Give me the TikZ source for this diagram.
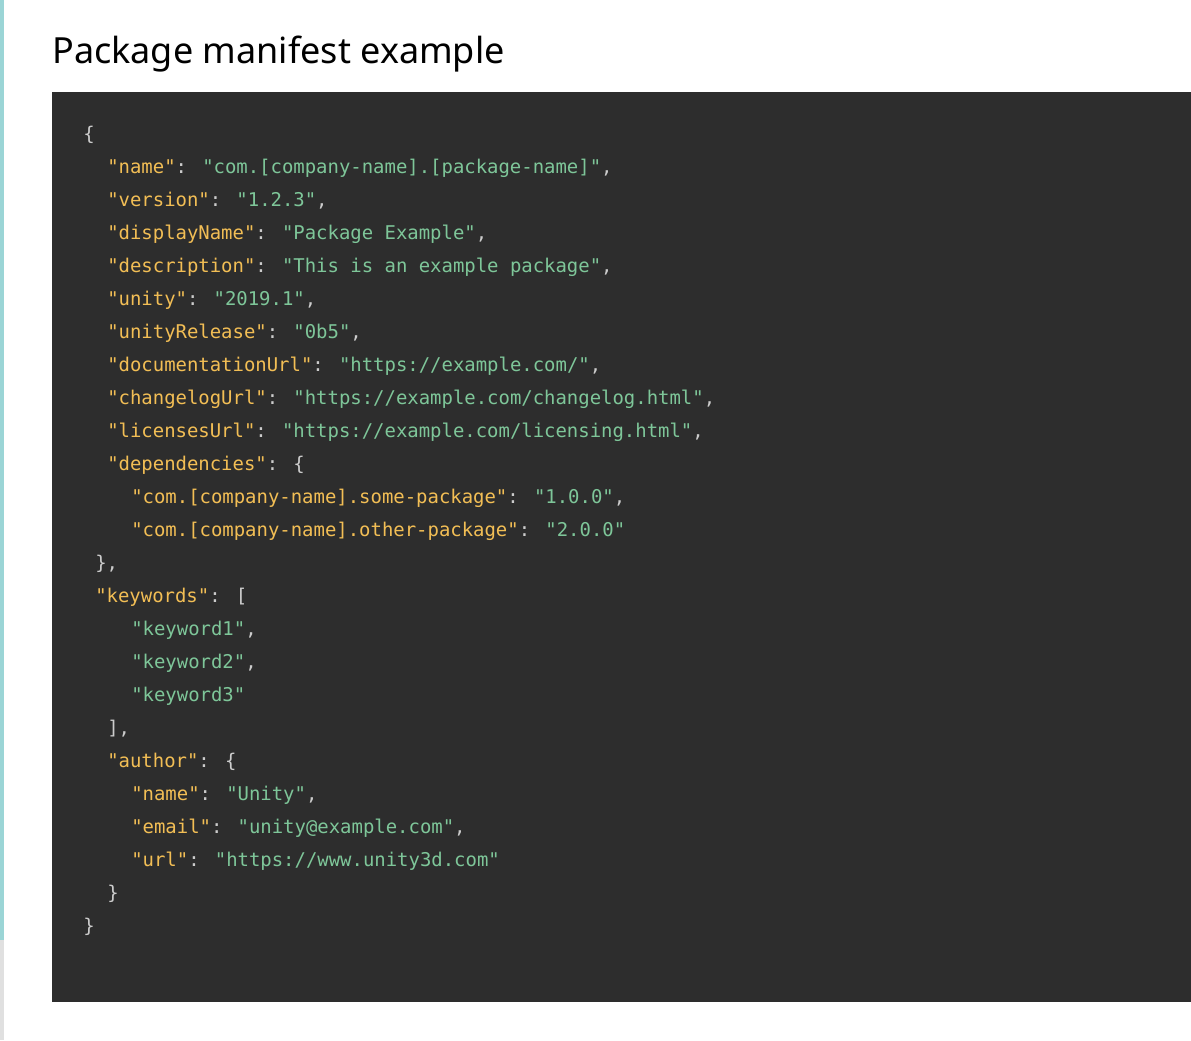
\documentclass[tikz,border=0pt]{standalone}
\usepackage{fontspec}
\setmainfont{Noto Sans}
\newfontfamily\codefont{DejaVu Sans Mono}
\definecolor{bgbox}{HTML}{2D2D2D}
\definecolor{keyc}{HTML}{F2BE55}
\definecolor{strc}{HTML}{7EC699}
\definecolor{punc}{HTML}{CCCCCC}
\definecolor{teal}{HTML}{9BD5D6}
\newcommand{\K}[1]{\textcolor{keyc}{#1}}
\newcommand{\Sx}[1]{\textcolor{strc}{#1}}
\newcommand{\Px}[1]{\textcolor{punc}{#1}}
\begin{document}
\begin{tikzpicture}[x=0.75pt,y=-0.75pt,
  code/.style={anchor=base west,inner sep=0pt,font=\codefont\fontsize{14.2}{16}\selectfont,text=punc}]
\useasboundingbox (0,0) rectangle (1191,1040);
\fill[white] (0,0) rectangle (1191,1040);
\fill[teal] (0,0) rectangle (4,940);
\fill[black!12] (0,940) rectangle (4,1040);
\fill[bgbox] (52,92) rectangle (1191,1002);
\node[anchor=base west,inner sep=0pt,font=\fontsize{27}{30}\selectfont] (title) at (52,63) {Package manifest example};
\node[code] (l0) at (83,140) {\{};
\node[code] (l1) at (107,173) {\K{"name"}: \Sx{"com.[company-name].[package-name]"},};
\node[code] (l2) at (107,206) {\K{"version"}: \Sx{"1.2.3"},};
\node[code] (l3) at (107,239) {\K{"displayName"}: \Sx{"Package Example"},};
\node[code] (l4) at (107,272) {\K{"description"}: \Sx{"This is an example package"},};
\node[code] (l5) at (107,305) {\K{"unity"}: \Sx{"2019.1"},};
\node[code] (l6) at (107,338) {\K{"unityRelease"}: \Sx{"0b5"},};
\node[code] (l7) at (107,371) {\K{"documentationUrl"}: \Sx{"https://example.com/"},};
\node[code] (l8) at (107,404) {\K{"changelogUrl"}: \Sx{"https://example.com/changelog.html"},};
\node[code] (l9) at (107,437) {\K{"licensesUrl"}: \Sx{"https://example.com/licensing.html"},};
\node[code] (l10) at (107,470) {\K{"dependencies"}: \{};
\node[code] (l11) at (131,503) {\K{"com.[company-name].some-package"}: \Sx{"1.0.0"},};
\node[code] (l12) at (131,536) {\K{"com.[company-name].other-package"}: \Sx{"2.0.0"}};
\node[code] (l13) at (95,569) {\},};
\node[code] (l14) at (95,602) {\K{"keywords"}: [};
\node[code] (l15) at (131,635) {\Sx{"keyword1"},};
\node[code] (l16) at (131,668) {\Sx{"keyword2"},};
\node[code] (l17) at (131,701) {\Sx{"keyword3"}};
\node[code] (l18) at (107,734) {],};
\node[code] (l19) at (107,767) {\K{"author"}: \{};
\node[code] (l20) at (131,800) {\K{"name"}: \Sx{"Unity"},};
\node[code] (l21) at (131,833) {\K{"email"}: \Sx{"unity@example.com"},};
\node[code] (l22) at (131,866) {\K{"url"}: \Sx{"https://www.unity3d.com"}};
\node[code] (l23) at (107,899) {\}};
\node[code] (l24) at (83,932) {\}};
\end{tikzpicture}
\end{document}
